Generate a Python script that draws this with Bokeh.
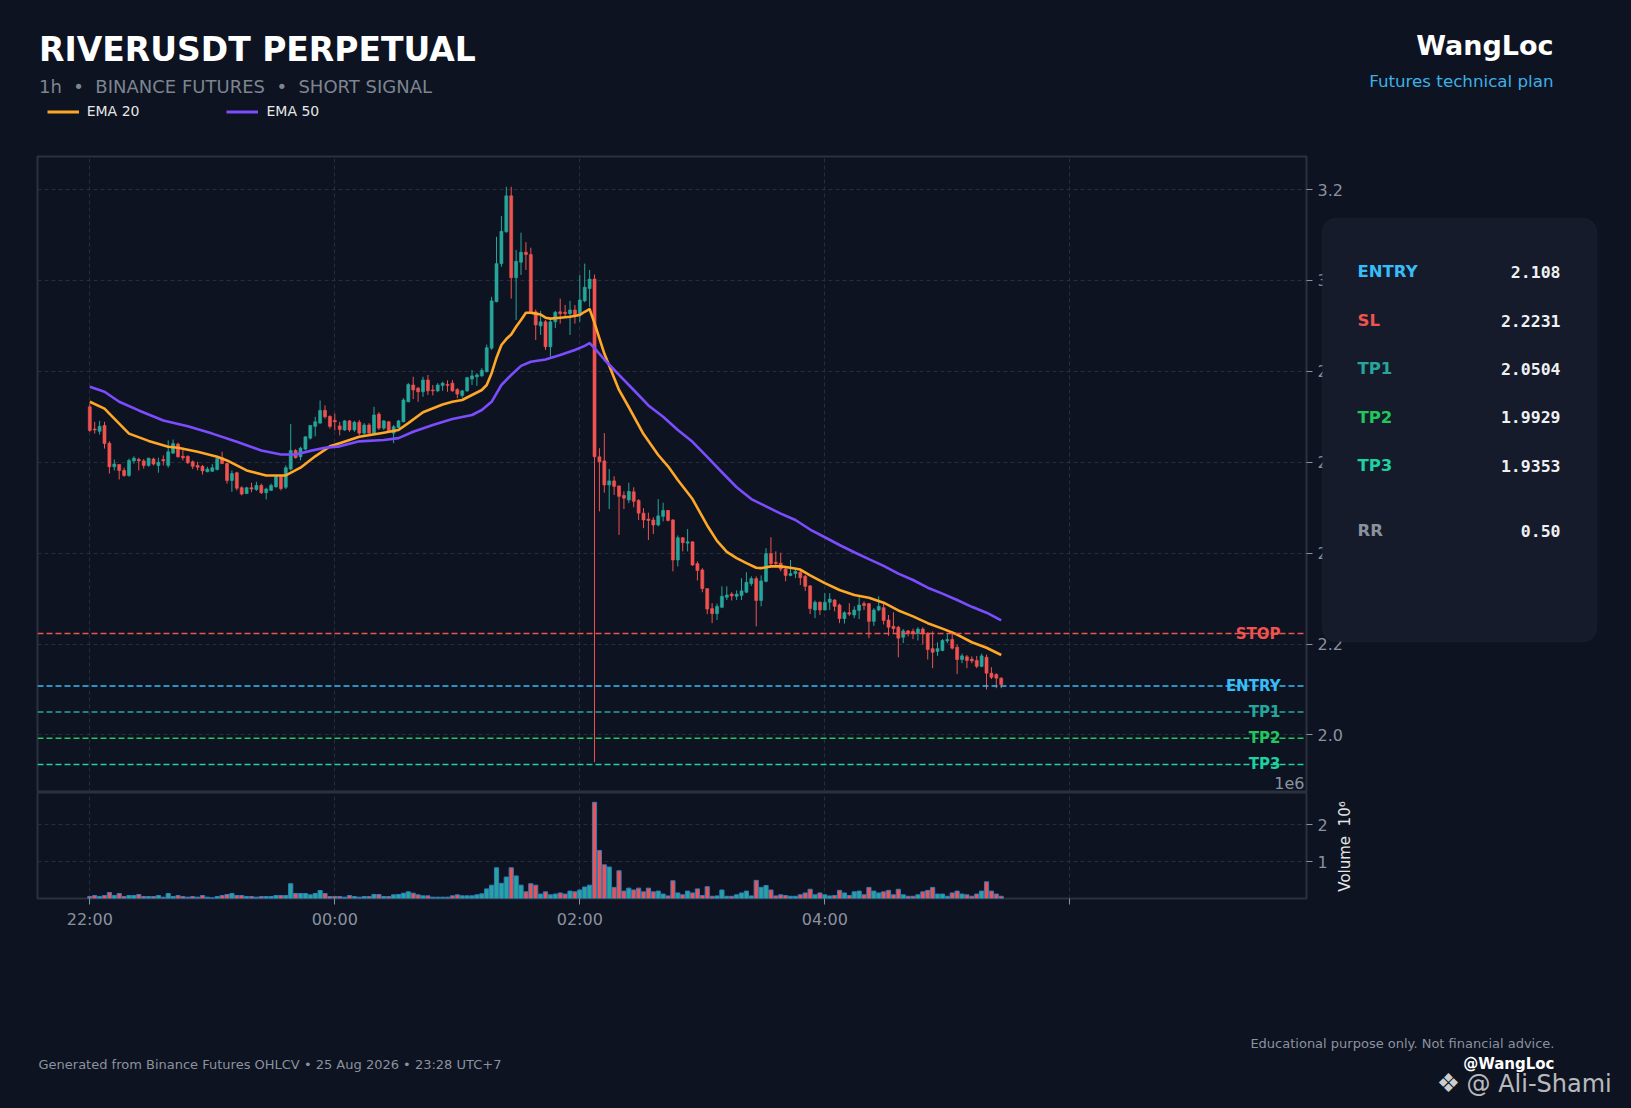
import numpy as np
import pandas as pd
from bokeh.plotting import figure
from bokeh.layouts import column
from bokeh.models import (Range1d, FixedTicker, PrintfTickFormatter, DatetimeTickFormatter,
                          Span, Label, BoxAnnotation, Legend, LegendItem, Grid, GridBox,
                          ColumnDataSource)
from bokeh.embed import file_html
from bokeh.resources import INLINE

# ---------------- data ----------------
open_ = [2.722, 2.673, 2.668, 2.681, 2.642, 2.590, 2.595, 2.582, 2.571, 2.603,
         2.606, 2.603, 2.593, 2.607, 2.593, 2.606, 2.593, 2.620, 2.640, 2.613,
         2.613, 2.601, 2.593, 2.591, 2.579, 2.580, 2.584, 2.610, 2.597, 2.560,
         2.577, 2.544, 2.531, 2.544, 2.540, 2.549, 2.533, 2.538, 2.546, 2.568,
         2.545, 2.585, 2.626, 2.612, 2.629, 2.653, 2.679, 2.686, 2.714, 2.701,
         2.692, 2.680, 2.671, 2.691, 2.671, 2.688, 2.664, 2.682, 2.664, 2.706,
         2.675, 2.689, 2.664, 2.676, 2.689, 2.733, 2.770, 2.763, 2.755, 2.781,
         2.759, 2.757, 2.769, 2.771, 2.774, 2.760, 2.747, 2.757, 2.783, 2.788,
         2.790, 2.799, 2.851, 2.953, 3.037, 3.107, 3.186, 3.006, 3.040, 3.062,
         3.057, 2.931, 2.900, 2.909, 2.854, 2.909, 2.931, 2.930, 2.927, 2.935,
         2.924, 2.955, 2.982, 3.003, 2.612, 2.603, 2.550, 2.559, 2.548, 2.527,
         2.517, 2.535, 2.516, 2.488, 2.475, 2.473, 2.462, 2.481, 2.494, 2.473,
         2.385, 2.434, 2.422, 2.425, 2.377, 2.363, 2.322, 2.278, 2.267, 2.281,
         2.303, 2.310, 2.305, 2.307, 2.314, 2.333, 2.344, 2.296, 2.338, 2.399,
         2.380, 2.378, 2.365, 2.351, 2.355, 2.358, 2.349, 2.328, 2.275, 2.292,
         2.275, 2.292, 2.297, 2.286, 2.256, 2.269, 2.264, 2.274, 2.289, 2.289,
         2.250, 2.275, 2.280, 2.253, 2.239, 2.237, 2.215, 2.229, 2.228, 2.223,
         2.233, 2.224, 2.190, 2.184, 2.186, 2.207, 2.210, 2.193, 2.166, 2.172,
         2.167, 2.164, 2.151, 2.171, 2.136, 2.133, 2.125]
high = [2.729, 2.689, 2.691, 2.689, 2.646, 2.606, 2.595, 2.588, 2.608, 2.613,
        2.610, 2.607, 2.610, 2.610, 2.610, 2.615, 2.648, 2.650, 2.643, 2.632,
        2.615, 2.604, 2.601, 2.594, 2.590, 2.596, 2.610, 2.623, 2.599, 2.582,
        2.579, 2.547, 2.546, 2.555, 2.557, 2.553, 2.544, 2.553, 2.571, 2.571,
        2.593, 2.684, 2.629, 2.634, 2.657, 2.681, 2.700, 2.736, 2.725, 2.703,
        2.707, 2.689, 2.693, 2.693, 2.691, 2.693, 2.686, 2.686, 2.722, 2.710,
        2.693, 2.691, 2.682, 2.693, 2.741, 2.774, 2.788, 2.766, 2.788, 2.792,
        2.770, 2.774, 2.777, 2.780, 2.781, 2.763, 2.759, 2.788, 2.803, 2.796,
        2.807, 2.859, 2.964, 3.096, 3.142, 3.206, 3.206, 3.067, 3.105, 3.084,
        3.072, 2.936, 2.933, 2.913, 2.913, 2.933, 2.960, 2.946, 2.955, 2.946,
        3.012, 3.037, 3.023, 3.013, 2.631, 2.664, 2.585, 2.569, 2.548, 2.536,
        2.555, 2.545, 2.519, 2.499, 2.489, 2.479, 2.519, 2.511, 2.495, 2.475,
        2.439, 2.435, 2.453, 2.426, 2.382, 2.367, 2.323, 2.290, 2.289, 2.327,
        2.327, 2.314, 2.318, 2.345, 2.358, 2.349, 2.349, 2.351, 2.411, 2.435,
        2.404, 2.401, 2.371, 2.385, 2.365, 2.365, 2.352, 2.330, 2.296, 2.294,
        2.312, 2.312, 2.299, 2.289, 2.272, 2.290, 2.283, 2.303, 2.294, 2.290,
        2.279, 2.305, 2.290, 2.264, 2.270, 2.240, 2.233, 2.231, 2.234, 2.237,
        2.237, 2.226, 2.228, 2.204, 2.211, 2.224, 2.228, 2.199, 2.179, 2.176,
        2.173, 2.174, 2.179, 2.177, 2.149, 2.136, 2.127]
low = [2.667, 2.663, 2.661, 2.630, 2.575, 2.582, 2.562, 2.568, 2.568, 2.597,
       2.582, 2.586, 2.590, 2.593, 2.577, 2.593, 2.588, 2.619, 2.610, 2.604,
       2.596, 2.585, 2.582, 2.573, 2.578, 2.579, 2.582, 2.596, 2.553, 2.535,
       2.538, 2.527, 2.530, 2.534, 2.537, 2.530, 2.518, 2.537, 2.544, 2.538,
       2.541, 2.582, 2.608, 2.604, 2.626, 2.650, 2.657, 2.685, 2.696, 2.674,
       2.670, 2.659, 2.669, 2.667, 2.667, 2.660, 2.660, 2.662, 2.662, 2.671,
       2.671, 2.666, 2.642, 2.675, 2.688, 2.732, 2.739, 2.733, 2.744, 2.748,
       2.747, 2.754, 2.757, 2.755, 2.755, 2.741, 2.742, 2.755, 2.770, 2.768,
       2.788, 2.798, 2.847, 2.952, 3.030, 3.105, 2.960, 2.913, 3.012, 3.023,
       2.927, 2.869, 2.880, 2.847, 2.832, 2.895, 2.905, 2.920, 2.880, 2.905,
       2.909, 2.952, 2.942, 1.940, 2.492, 2.533, 2.497, 2.528, 2.440, 2.497,
       2.510, 2.501, 2.473, 2.455, 2.429, 2.442, 2.459, 2.470, 2.470, 2.360,
       2.371, 2.404, 2.404, 2.372, 2.340, 2.314, 2.266, 2.246, 2.253, 2.279,
       2.297, 2.296, 2.297, 2.297, 2.312, 2.328, 2.239, 2.283, 2.336, 2.374,
       2.369, 2.360, 2.338, 2.349, 2.345, 2.330, 2.317, 2.266, 2.257, 2.264,
       2.274, 2.275, 2.272, 2.246, 2.245, 2.262, 2.257, 2.255, 2.275, 2.213,
       2.240, 2.272, 2.243, 2.218, 2.224, 2.171, 2.202, 2.217, 2.211, 2.208,
       2.199, 2.166, 2.147, 2.174, 2.184, 2.202, 2.188, 2.134, 2.158, 2.147,
       2.158, 2.147, 2.149, 2.100, 2.123, 2.103, 2.103]
close = [2.670, 2.671, 2.679, 2.641, 2.590, 2.596, 2.582, 2.571, 2.604, 2.609,
         2.603, 2.593, 2.609, 2.596, 2.600, 2.603, 2.623, 2.641, 2.612, 2.610,
         2.599, 2.591, 2.589, 2.581, 2.585, 2.588, 2.608, 2.597, 2.560, 2.575,
         2.543, 2.530, 2.544, 2.541, 2.549, 2.533, 2.541, 2.549, 2.569, 2.542,
         2.588, 2.626, 2.610, 2.631, 2.656, 2.681, 2.689, 2.714, 2.700, 2.679,
         2.689, 2.672, 2.691, 2.671, 2.688, 2.664, 2.682, 2.664, 2.704, 2.675,
         2.691, 2.669, 2.678, 2.691, 2.737, 2.771, 2.759, 2.755, 2.781, 2.757,
         2.757, 2.770, 2.774, 2.769, 2.757, 2.750, 2.757, 2.786, 2.790, 2.792,
         2.802, 2.852, 2.955, 3.037, 3.108, 3.186, 3.006, 3.042, 3.062, 3.057,
         2.930, 2.902, 2.909, 2.854, 2.909, 2.930, 2.927, 2.927, 2.935, 2.925,
         2.957, 2.985, 3.003, 2.612, 2.601, 2.550, 2.559, 2.547, 2.525, 2.521,
         2.536, 2.514, 2.488, 2.473, 2.472, 2.462, 2.482, 2.494, 2.472, 2.385,
         2.434, 2.423, 2.425, 2.374, 2.362, 2.322, 2.277, 2.267, 2.283, 2.305,
         2.308, 2.306, 2.310, 2.317, 2.336, 2.344, 2.296, 2.339, 2.399, 2.377,
         2.377, 2.365, 2.351, 2.355, 2.360, 2.346, 2.327, 2.278, 2.292, 2.275,
         2.292, 2.299, 2.283, 2.256, 2.269, 2.266, 2.275, 2.286, 2.285, 2.250,
         2.275, 2.283, 2.252, 2.237, 2.234, 2.213, 2.229, 2.223, 2.224, 2.233,
         2.223, 2.188, 2.182, 2.190, 2.208, 2.210, 2.191, 2.166, 2.174, 2.164,
         2.163, 2.151, 2.174, 2.136, 2.127, 2.125, 2.111]
volume_m = [0.054, 0.081, 0.054, 0.081, 0.162, 0.081, 0.135, 0.054, 0.081, 0.081,
            0.108, 0.054, 0.054, 0.054, 0.081, 0.036, 0.135, 0.054, 0.081, 0.054,
            0.036, 0.054, 0.036, 0.081, 0.036, 0.018, 0.054, 0.081, 0.108, 0.135,
            0.081, 0.081, 0.054, 0.054, 0.036, 0.054, 0.054, 0.054, 0.081, 0.081,
            0.081, 0.400, 0.135, 0.135, 0.135, 0.099, 0.135, 0.216, 0.135, 0.054,
            0.054, 0.054, 0.036, 0.081, 0.054, 0.036, 0.054, 0.054, 0.108, 0.108,
            0.054, 0.054, 0.099, 0.108, 0.144, 0.180, 0.144, 0.099, 0.072, 0.072,
            0.036, 0.036, 0.036, 0.036, 0.072, 0.099, 0.072, 0.072, 0.072, 0.099,
            0.126, 0.260, 0.360, 0.830, 0.410, 0.580, 0.830, 0.610, 0.360, 0.180,
            0.400, 0.360, 0.120, 0.180, 0.100, 0.120, 0.150, 0.120, 0.200, 0.180,
            0.230, 0.310, 0.360, 2.600, 1.300, 0.910, 0.850, 0.300, 0.750, 0.200,
            0.280, 0.230, 0.280, 0.180, 0.280, 0.180, 0.200, 0.120, 0.070, 0.480,
            0.150, 0.100, 0.200, 0.150, 0.260, 0.080, 0.320, 0.060, 0.070, 0.230,
            0.060, 0.060, 0.100, 0.150, 0.200, 0.070, 0.490, 0.300, 0.350, 0.230,
            0.070, 0.100, 0.080, 0.060, 0.060, 0.100, 0.150, 0.250, 0.100, 0.150,
            0.100, 0.070, 0.080, 0.220, 0.150, 0.080, 0.180, 0.200, 0.100, 0.300,
            0.200, 0.150, 0.180, 0.220, 0.100, 0.250, 0.100, 0.060, 0.060, 0.100,
            0.180, 0.220, 0.300, 0.120, 0.120, 0.060, 0.150, 0.200, 0.120, 0.100,
            0.060, 0.120, 0.200, 0.450, 0.200, 0.120, 0.060]

ema20_idx = [0, 3, 6, 8, 12, 16, 18, 22, 26, 28, 32, 36, 40, 43, 46, 49, 51, 55, 60, 63,
             65, 68, 72, 74, 76, 78, 80, 81, 82, 83, 84, 85, 86, 87, 88, 89, 90, 91, 92, 93,
             94, 96, 98, 100, 101, 102, 103, 105, 108, 110, 113, 116, 118, 120, 123, 126, 128,
             130, 132, 134, 136, 137, 139, 141, 143, 145, 147, 150, 153, 156, 159, 162, 165,
             168, 171, 174, 177, 180, 183, 186]
ema20_val = [2.733, 2.718, 2.685, 2.663, 2.647, 2.634, 2.632, 2.623, 2.612, 2.604, 2.582,
             2.571, 2.571, 2.588, 2.613, 2.635, 2.642, 2.656, 2.665, 2.671, 2.686, 2.710,
             2.727, 2.733, 2.737, 2.748, 2.759, 2.770, 2.796, 2.830, 2.858, 2.871, 2.881,
             2.898, 2.913, 2.929, 2.929, 2.927, 2.925, 2.918, 2.916, 2.918, 2.920, 2.924,
             2.931, 2.937, 2.906, 2.839, 2.759, 2.721, 2.662, 2.616, 2.591, 2.561, 2.519,
             2.461, 2.427, 2.403, 2.389, 2.378, 2.368, 2.367, 2.371, 2.371, 2.368, 2.364,
             2.351, 2.334, 2.319, 2.308, 2.302, 2.291, 2.274, 2.261, 2.246, 2.234, 2.221,
             2.204, 2.192, 2.176]
ema50_idx = [0, 3, 6, 10, 15, 20, 25, 30, 35, 39, 42, 45, 48, 51, 55, 60, 63, 66, 70, 74,
             78, 80, 82, 84, 86, 88, 90, 93, 96, 99, 101, 102, 103, 105, 108, 111, 114, 117,
             120, 123, 126, 129, 132, 135, 138, 141, 144, 147, 150, 153, 156, 159, 162, 165,
             168, 171, 174, 177, 180, 183, 186]
ema50_val = [2.766, 2.755, 2.733, 2.714, 2.692, 2.679, 2.663, 2.645, 2.626, 2.617, 2.617,
             2.625, 2.632, 2.635, 2.646, 2.649, 2.653, 2.667, 2.682, 2.695, 2.704, 2.715,
             2.733, 2.770, 2.792, 2.812, 2.821, 2.826, 2.836, 2.847, 2.856, 2.862, 2.851,
             2.826, 2.792, 2.759, 2.725, 2.700, 2.671, 2.645, 2.612, 2.578, 2.545, 2.519,
             2.503, 2.487, 2.473, 2.452, 2.435, 2.418, 2.402, 2.387, 2.372, 2.355, 2.341,
             2.324, 2.311, 2.297, 2.282, 2.269, 2.252]

levels = {"STOP": 2.2231, "ENTRY": 2.108, "TP1": 2.0504, "TP2": 1.9929, "TP3": 1.9353}
panel_rows = [("ENTRY", "2.108"), ("SL", "2.2231"), ("TP1", "2.0504"),
              ("TP2", "1.9929"), ("TP3", "1.9353"), ("RR", "0.50")]
price_ticks = [2.0, 2.2, 2.4, 2.6, 2.8, 3.0, 3.2]
volume_ticks = [1, 2]

# ---------------- style ----------------
BG = "#0d1321"
FRAME = "#2b313d"
GRID = "#262d3b"
AX = "#8b929e"
UP = "#26a69a"
DOWN = "#ef5350"
ORANGE = "#ffa726"
PURPLE = "#7c4dff"
C_ENTRY = "#38bdf8"
C_SL = "#ef5350"
C_TP1 = "#26a69a"
C_TP2 = "#22c55e"
C_TP3 = "#1dd1a1"
level_colors = {"STOP": C_SL, "ENTRY": C_ENTRY, "TP1": C_TP1, "TP2": C_TP2, "TP3": C_TP3}
row_colors = {"ENTRY": C_ENTRY, "SL": C_SL, "TP1": C_TP1, "TP2": C_TP2, "TP3": C_TP3, "RR": "#8b929e"}
FONT = "DejaVu Sans"
MONO = "DejaVu Sans Mono"
NB = "\u00a0"

# ---------------- time axis ----------------
t0 = pd.Timestamp("2026-08-24 22:00:00")
step_s = 144
n = len(close)
epoch = pd.Timestamp("1970-01-01")


def ms(t):
    return (t - epoch).total_seconds() * 1000.0


times = np.array([ms(t0 + pd.Timedelta(seconds=step_s * i)) for i in range(n)])
xticks = [ms(t0 + pd.Timedelta(hours=2 * k)) for k in range(5)]
x_range = Range1d(start=ms(t0 - pd.Timedelta(seconds=1537)), end=ms(t0 + pd.Timedelta(seconds=35755)))

o = np.array(open_); h = np.array(high); l = np.array(low); c = np.array(close)
colors = [UP if cc >= oo else DOWN for oo, cc in zip(o, c)]
src = ColumnDataSource(dict(x=times, o=o, h=h, l=l, c=c,
                            top=np.maximum(o, c), bottom=np.minimum(o, c),
                            color=colors, vol=np.array(volume_m)))

W, H = 1631, 1108
PRICE_H = 792
common = dict(width=W, toolbar_location=None, output_backend="svg", x_range=x_range,
              min_border_left=37, min_border_right=325,
              background_fill_color=BG, border_fill_color=BG,
              outline_line_color=FRAME, outline_line_width=2)


def style_axis(ax):
    ax.axis_line_color = None
    ax.major_tick_line_color = AX
    ax.major_tick_out = 6
    ax.major_tick_in = 0
    ax.minor_tick_line_color = None
    ax.major_label_text_color = AX
    ax.major_label_text_font = FONT
    ax.major_label_text_font_size = "16px"
    ax.major_label_standoff = 5


# ---------------- price figure ----------------
p = figure(height=PRICE_H, y_range=Range1d(1.8735, 3.2726), x_axis_location=None,
           y_axis_location="right", min_border_top=156, min_border_bottom=0, **common)
p.grid.visible = False
p.add_layout(Grid(dimension=0, ticker=FixedTicker(ticks=xticks), grid_line_color=GRID,
                  grid_line_dash="4 3", grid_line_width=1))
p.add_layout(Grid(dimension=1, ticker=FixedTicker(ticks=price_ticks), grid_line_color=GRID,
                  grid_line_dash="4 3", grid_line_width=1))
ya = p.yaxis[0]
ya.ticker = FixedTicker(ticks=price_ticks)
ya.formatter = PrintfTickFormatter(format="%.1f")
style_axis(ya)

for name, val in levels.items():
    p.add_layout(Span(location=val, dimension="width", line_color=level_colors[name],
                      line_dash="6 3", line_width=1.5))

p.segment(x0="x", y0="h", x1="x", y1="l", color="color", line_width=1, source=src)
p.vbar(x="x", width=step_s * 1000 * 0.62, top="top", bottom="bottom", fill_color="color",
       line_color="color", line_width=0.6, source=src)

p.line(times[ema20_idx], ema20_val, line_color=ORANGE, line_width=2.6, line_join="round")
p.line(times[ema50_idx], ema50_val, line_color=PURPLE, line_width=2.6, line_join="round")

for name, val in levels.items():
    p.add_layout(Label(x=1280, x_units="canvas", y=val, y_units="data", text=name,
                       text_align="right", text_baseline="middle", text_color=level_colors[name],
                       text_font=FONT, text_font_style="bold", text_font_size="15px"))

p.add_layout(Label(x=1304, y=782, x_units="canvas", y_units="canvas", text="1e6",
                   text_align="right", text_baseline="middle", text_color=AX,
                   text_font=FONT, text_font_size="16px"))

# ---------------- volume figure ----------------
v = figure(height=H - PRICE_H, y_range=Range1d(0, 2.865), x_axis_type="datetime",
           y_axis_location="right", min_border_top=0, min_border_bottom=H - PRICE_H - 106, **common)
v.vbar(x="x", width=step_s * 1000 * 0.85, top="vol", bottom=0, fill_color="color",
       line_color="#2f7dc1", line_width=1, source=src)
xa = v.xaxis[0]
xa.ticker = FixedTicker(ticks=xticks)
xa.formatter = DatetimeTickFormatter(hours="%H:%M", hourmin="%H:%M", minutes="%H:%M",
                                     days="%H:%M", minsec="%H:%M", seconds="%H:%M")
xa.major_label_overrides = {xticks[4]: ""}
va = v.yaxis[0]
va.ticker = FixedTicker(ticks=volume_ticks)
va.formatter = PrintfTickFormatter(format="%.0f")
style_axis(xa)
style_axis(va)
v.xgrid.grid_line_color = GRID
v.xgrid.grid_line_dash = "4 3"
v.ygrid.grid_line_color = GRID
v.ygrid.grid_line_dash = "4 3"

chart = column(p, v, spacing=0)

# ---------------- overlay for texts, legend and the info panel (canvas pixels) ----------------
ov = figure(width=W, height=H, x_range=Range1d(0, W), y_range=Range1d(H, 0),
            x_axis_location=None, y_axis_location=None, toolbar_location=None,
            output_backend="svg", min_border=0, background_fill_alpha=0,
            border_fill_alpha=0, outline_line_color=None)
ov.grid.visible = False


def txt(x, y, text, size, color, style="normal", align="left", baseline="middle",
        font=FONT, angle=0.0, alpha=1.0):
    ov.add_layout(Label(x=x, y=y, x_units="canvas", y_units="canvas", text=text,
                        text_font=font, text_font_size=size, text_font_style=style,
                        text_color=color, text_align=align, text_baseline=baseline,
                        angle=angle, text_alpha=alpha))


# header
txt(38.5, 49, "RIVERUSDT PERPETUAL", "33px", "#ffffff", style="bold")
txt(38.5, 86, f"1h{NB}{NB}\u2022{NB}{NB}BINANCE FUTURES{NB}{NB}\u2022{NB}{NB}SHORT SIGNAL",
    "18px", "#7d8590")
txt(1553, 45, "WangLoc", "27px", "#ffffff", style="bold", align="right")
txt(1553, 80, "Futures technical plan", "16.7px", "#3fb0e6", align="right")

# legend: swatch renderers carry only the EMA line styles (no drawn points)
sw20 = ov.line(x=[np.nan], y=[np.nan], line_color=ORANGE, line_width=3)
sw50 = ov.line(x=[np.nan], y=[np.nan], line_color=PURPLE, line_width=3)
legend = Legend(items=[LegendItem(label="EMA 20", renderers=[sw20]),
                       LegendItem(label="EMA 50", renderers=[sw50])],
                orientation="horizontal", location=(46.7, H - 119.5), background_fill_alpha=0,
                border_line_color=None, label_text_color="#e6e6e6", label_text_font=FONT,
                label_text_font_size="14px", glyph_width=32, glyph_height=17, label_height=17,
                label_standoff=8, spacing=87, padding=0, margin=0)
ov.add_layout(legend)

# info panel
ov.add_layout(BoxAnnotation(left=1322, right=1596, top=218, bottom=641,
                            left_units="canvas", right_units="canvas",
                            top_units="canvas", bottom_units="canvas",
                            fill_color="#151b2a", fill_alpha=1.0, line_color="#262e3d",
                            line_width=1.5, border_radius=14))
row_y = [271, 320, 368.3, 416.7, 465.3, 530.3]
for (lab, val), yy in zip(panel_rows, row_y):
    txt(1357, yy, lab, "16.5px", row_colors[lab], style="bold")
    txt(1560, yy, val, "16.5px", "#eef0f3", style="bold", align="right", font=MONO)

# volume axis label
txt(1344, 846, f"Volume{NB}{NB}10\u2076", "15px", "#e6e6e6", align="center", angle=np.pi / 2)

# footer
txt(38, 1064, "Generated from Binance Futures OHLCV \u2022 25 Aug 2026 \u2022 23:28 UTC+7",
    "13px", AX)
txt(1554, 1043, "Educational purpose only. Not financial advice.", "13px", AX, align="right")
txt(1554, 1063, "@WangLoc", "15px", "#ffffff", style="bold", align="right")
txt(1448, 1082, "\u2756", "26px", "#e8e8e8", align="center", alpha=0.9)
txt(1466, 1083, "@ Ali-Shami", "24px", "#e8e8e8", alpha=0.8)

page = GridBox(children=[(chart, 0, 0), (ov, 0, 0)])
html = file_html(page, INLINE, title="RIVERUSDT PERPETUAL")
html = html.replace("<head>", "<head><style>html, body {background: #0d1321;}</style>", 1)
open("out.html", "w").write(html)
